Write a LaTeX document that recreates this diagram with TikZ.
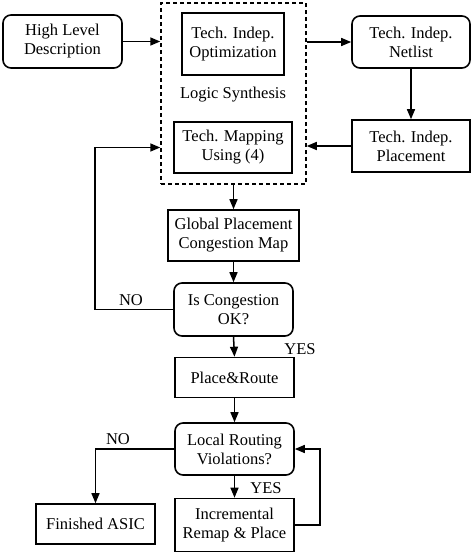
\documentclass[tikz,border=0pt]{standalone}
\usepackage{fontspec}
\setmainfont{Liberation Serif}
\usetikzlibrary{arrows.meta,calc}
\begin{document}
\begin{tikzpicture}[x=1pt,y=-1pt,
  every node/.style={font=\fontsize{16.5}{19}\selectfont},
  blk/.style={draw, line width=1.6pt, align=center, inner sep=0pt},
  rblk/.style={blk, rounded corners=8pt},
  dashbox/.style={draw, line width=1.5pt, dash pattern=on 4pt off 3pt, inner sep=0pt},
  arr/.style={line width=1.5pt, -{Triangle[length=10pt,width=8pt]}},
  lbl/.style={inner sep=0pt}]
\useasboundingbox (0,0) rectangle (474,552);
\node[dashbox, minimum width=145, minimum height=181] (ls) at (233.5,93.5) {};
\node[lbl] (lstext) at (233,95) {Logic Synthesis};
\node[rblk, minimum width=119, minimum height=53] (hld) at (62.5,41.5) {High Level\\Description};
\node[blk, minimum width=102, minimum height=62] (opt) at (233,44) {Tech. Indep.\\Optimization};
\node[blk, minimum width=118, minimum height=51] (map) at (233,147.5) {Tech. Mapping\\Using (4)};
\node[rblk, minimum width=118, minimum height=52] (net) at (411,42) {Tech. Indep.\\Netlist};
\node[blk, minimum width=118, minimum height=52] (plc) at (411,146) {Tech. Indep.\\Placement};
\node[blk, minimum width=131, minimum height=51] (glob) at (233.5,235.5) {Global Placement\\Congestion Map};
\node[rblk, minimum width=119, minimum height=53] (cong) at (233.5,309.5) {Is Congestion\\OK?};
\node[blk, minimum width=119, minimum height=40] (pr) at (234.5,377.5) {Place\&Route};
\node[rblk, minimum width=119, minimum height=52] (lrv) at (234.5,449) {Local Routing\\Violations?};
\node[blk, minimum width=119, minimum height=40] (fin) at (95.5,524) {Finished ASIC};
\node[blk, minimum width=119, minimum height=53] (inc) at (234.5,525) {Incremental\\Remap \& Place};
\node[lbl] (no1) at (131,300) {NO};
\node[lbl] (yes1) at (300,349) {YES};
\node[lbl] (no2) at (118,439) {NO};
\node[lbl] (yes2) at (266,488) {YES};
\draw[arr] (hld.east) -- (hld.east -| ls.west);
\draw[arr] (ls.east |- net.west) -- (net.west);
\draw[arr] (net.south) -- (plc.north);
\draw[arr] (plc.west) -- (plc.west -| ls.east);
\draw[arr] (cong.west) -- ++(-78,0) |- (ls.west |- map.center);
\draw[arr] (ls.south -| glob.north) -- (glob.north);
\draw[arr] (glob.south) -- (cong.north);
\draw[arr] (cong.south) -- (pr.north);
\draw[arr] (pr.south) -- (lrv.north);
\draw[arr] (lrv.south) -- (inc.north);
\draw[arr] (lrv.west) -| (fin.north);
\draw[arr] (inc.east) -- ++(25,0) |- (lrv.east);
\end{tikzpicture}
\end{document}
